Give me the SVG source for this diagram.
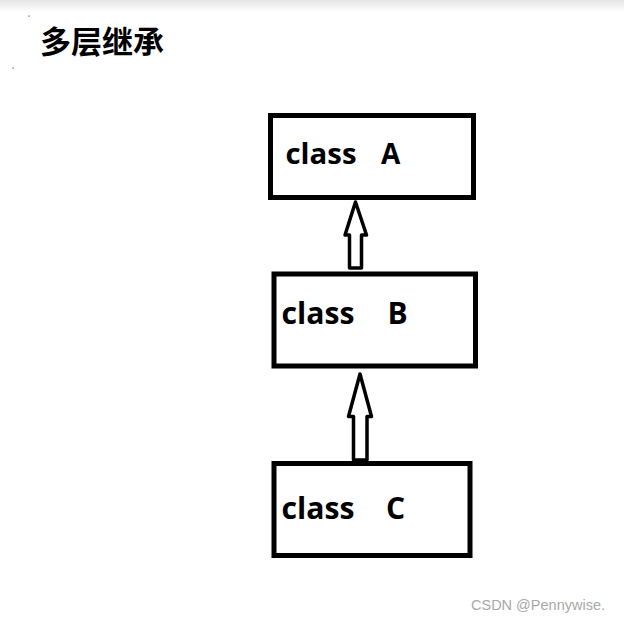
<svg xmlns="http://www.w3.org/2000/svg" width="624" height="621" viewBox="0 0 624 621">
<defs>
<linearGradient id="topShade" x1="0" y1="0" x2="0" y2="1">
<stop offset="0" stop-color="#e4e4e4"/>
<stop offset="1" stop-color="#ffffff"/>
</linearGradient>
</defs>
<style>
.box{fill:#ffffff;stroke:#000000;stroke-width:5}
.lbl{font-family:"Open Sans","Noto Sans",sans-serif;font-weight:bold;font-size:30px;fill:#000000}
.arrow{fill:#ffffff;stroke:#000000;stroke-width:3.5;stroke-linejoin:round}
.title{font-family:"Noto Sans CJK SC","Noto Sans",sans-serif;font-weight:bold;font-size:31px;fill:#000000}
.wm{font-family:"Liberation Sans",Arial,sans-serif;font-size:14.5px;fill:#a8a8a8}
</style>
<rect x="0" y="0" width="624" height="621" fill="#ffffff"/>
<rect x="0" y="0" width="624" height="12" fill="url(#topShade)"/>
<rect x="28.5" y="15.5" width="1.2" height="1.2" fill="#555555"/>
<rect x="12.5" y="67.5" width="1.2" height="1.2" fill="#555555"/>
<text class="title" x="40" y="53">多层继承</text>
<g id="connectors">
<polygon class="arrow" points="355.5,202 366.5,235 361.5,235 361.5,268 349.5,268 349.5,235 345,235"/>
<polygon class="arrow" points="360,374 371.5,416.5 367,416.5 367,460 353.5,460 353.5,416.5 348.5,416.5"/>
</g>
<g id="classA">
<rect class="box" x="270.5" y="115.5" width="203" height="82"/>
<text class="lbl" y="164" style="font-size:28px"><tspan x="285.5" textLength="71" lengthAdjust="spacingAndGlyphs">class</tspan><tspan x="381">A</tspan></text>
</g>
<g id="classB">
<rect class="box" x="274" y="274" width="201.5" height="92"/>
<text class="lbl" y="323.5"><tspan x="281.5" textLength="73" lengthAdjust="spacingAndGlyphs">class</tspan><tspan x="387.5">B</tspan></text>
</g>
<g id="classC">
<rect class="box" x="274" y="463.5" width="196" height="92"/>
<text class="lbl" y="518.5"><tspan x="281.5" textLength="73" lengthAdjust="spacingAndGlyphs">class</tspan><tspan x="386">C</tspan></text>
</g>
<text class="wm" x="471" y="610">CSDN @Pennywise.</text>
</svg>
